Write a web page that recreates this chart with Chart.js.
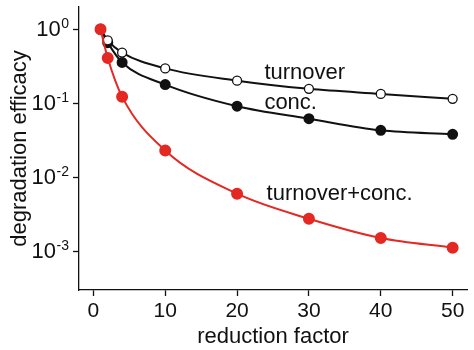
<!DOCTYPE html>
<html lang="en">
<head>
    <meta charset="UTF-8">
    <title>Degradation efficacy</title>
    <script src="https://cdn.jsdelivr.net/npm/chart.js"></script>
    <style>
        html, body { margin: 0; padding: 0; background: #fff; }
        .canvas-container { width: 474px; height: 350px; }
    </style>
</head>
<body>

<div class="canvas-container">
    <canvas id="effChart" width="474" height="350"></canvas>
</div>

<script>
    // reduction factor values
    const reduction = [1, 2, 4, 10, 20, 30, 40, 50];

    // degradation efficacy
    const turnover = [1, 0.71, 0.485, 0.296, 0.202, 0.157, 0.134, 0.115];
    const conc = [1, 0.66, 0.356, 0.179, 0.0914, 0.062, 0.0431, 0.0381];
    const turnoverConc = [1, 0.41, 0.123, 0.023, 0.006, 0.00275, 0.00151, 0.00112];

    const xTicks = [0, 10, 20, 30, 40, 50];
    const yTicks = [1, 0.1, 0.01, 0.001];
    const yExponents = ['0', '-1', '-2', '-3'];

    // in-plot labels (data coordinates, text baseline)
    const labelText = ['turnover', 'conc.', 'turnover+conc.'];
    const labelX = [23.8, 23.8, 24.1];
    const labelY = [0.215, 0.0826, 0.00489];

    const FONT = 'Liberation Sans, Arial, Helvetica, sans-serif';
    const RED = 'rgb(228, 40, 34)';
    const BLACK = '#111';

    function toPoints(values) {
        return reduction.map((x, i) => ({ x: x, y: values[i] }));
    }

    // draws the 10^n tick labels and the curve labels
    const textPlugin = {
        id: 'textPlugin',
        afterDraw(chart) {
            const ctx = chart.ctx;
            const xs = chart.scales.x;
            const ys = chart.scales.y;
            ctx.save();
            ctx.fillStyle = '#111';

            yTicks.forEach((v, i) => {
                const py = ys.getPixelForValue(v);
                ctx.font = '14px ' + FONT;
                const expW = ctx.measureText(yExponents[i]).width;
                const right = 69;
                ctx.textAlign = 'left';
                ctx.textBaseline = 'alphabetic';
                ctx.fillText(yExponents[i], right - expW, py - 1);
                ctx.font = '22px ' + FONT;
                ctx.textAlign = 'right';
                ctx.textBaseline = 'middle';
                ctx.fillText('10', right - expW - 0.5, py + 1);
            });

            ctx.font = '22px ' + FONT;
            ctx.textAlign = 'left';
            ctx.textBaseline = 'alphabetic';
            labelText.forEach((t, i) => {
                ctx.fillText(t, xs.getPixelForValue(labelX[i]), ys.getPixelForValue(labelY[i]));
            });
            ctx.restore();
        }
    };

    const ctx = document.getElementById('effChart').getContext('2d');

    const effChart = new Chart(ctx, {
        type: 'line',
        data: {
            datasets: [
                {
                    label: 'turnover+conc.',
                    data: toPoints(turnoverConc),
                    borderColor: RED,
                    backgroundColor: RED,
                    pointBackgroundColor: RED,
                    pointBorderColor: RED,
                    pointRadius: 5,
                    borderWidth: 2
                },
                {
                    label: 'turnover',
                    data: toPoints(turnover),
                    borderColor: BLACK,
                    pointBackgroundColor: '#fff',
                    pointBorderColor: BLACK,
                    pointBorderWidth: 1.3,
                    pointRadius: 4.5,
                    borderWidth: 2
                },
                {
                    label: 'conc.',
                    data: toPoints(conc),
                    borderColor: BLACK,
                    pointBackgroundColor: BLACK,
                    pointBorderColor: BLACK,
                    pointRadius: 4.5,
                    borderWidth: 2
                }
            ]
        },
        options: {
            responsive: false,
            animation: false,
            cubicInterpolationMode: 'monotone',
            layout: { padding: { top: 5, right: 7, left: 0, bottom: 0 } },
            plugins: {
                legend: { display: false },
                tooltip: { enabled: false }
            },
            scales: {
                x: {
                    type: 'linear',
                    min: -2,
                    max: 52,
                    afterBuildTicks: scale => { scale.ticks = xTicks.map(v => ({ value: v })); },
                    afterFit: scale => { scale.height = 60; },
                    grid: { drawOnChartArea: false, tickLength: 6, tickColor: '#111', tickWidth: 1.3 },
                    border: { color: '#111', width: 1.3 },
                    ticks: { color: '#111', font: { size: 21, family: FONT }, padding: 3, maxRotation: 0 },
                    title: {
                        display: true,
                        text: 'reduction factor',
                        color: '#111',
                        font: { size: 22, family: FONT },
                        padding: { top: 0, bottom: 0 }
                    }
                },
                y: {
                    type: 'logarithmic',
                    min: 3e-4,
                    max: 2,
                    afterBuildTicks: scale => { scale.ticks = yTicks.map(v => ({ value: v })); },
                    afterFit: scale => { scale.width = 79; },
                    grid: { drawOnChartArea: false, tickLength: 6, tickColor: '#111', tickWidth: 1.3 },
                    border: { color: '#111', width: 1.3 },
                    ticks: { display: false },
                    title: {
                        display: true,
                        text: 'degradation efficacy',
                        color: '#111',
                        font: { size: 22, family: FONT },
                        padding: { top: 7, bottom: 0 }
                    }
                }
            }
        },
        plugins: [textPlugin]
    });
</script>

</body>
</html>
